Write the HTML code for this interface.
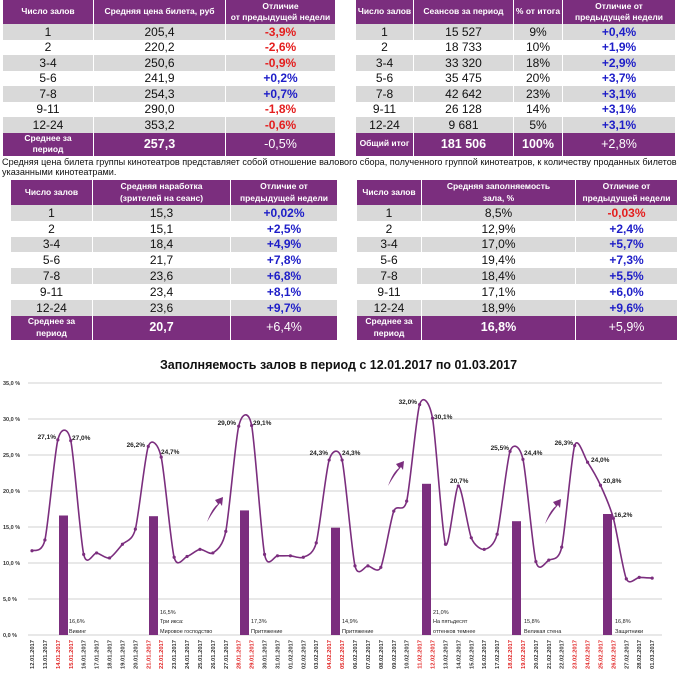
<!DOCTYPE html>
<html><head><meta charset="utf-8"><style>
body{margin:0;width:677px;height:676px;background:#fff;position:relative;overflow:hidden;font-family:"Liberation Sans","Noto Sans CJK SC",sans-serif;}
table{position:absolute;border-collapse:collapse;table-layout:fixed;}
td{padding:0;text-align:center;font-size:12px;color:#111;border-left:1px solid #fff;line-height:1}
tr.h td{background:#7b2e7e;color:#fff;font-weight:bold;font-size:8.5px;line-height:1.35}
tr.s td{background:#7b2e7e;color:#fff;font-weight:bold;font-size:12.5px}
tr.s td.l{font-size:8.5px;line-height:1.35}
tr.g td{background:#d9d9d9}
.r{color:#e41e1e!important;font-weight:bold}
.b{color:#1e1ec8!important;font-weight:bold}
.cap{position:absolute;left:2px;top:157px;font-size:9.1px;line-height:10px;color:#111;white-space:nowrap}
.title{position:absolute;left:0;width:677px;top:358px;text-align:center;font-weight:bold;font-size:12.5px;color:#111}
</style></head><body>

<table style="left:2px;top:0;width:333px">
<colgroup><col style="width:91px"><col style="width:132px"><col></colgroup>
<tr class="h" style="height:24px"><td>Число залов</td><td>Средняя цена билета, руб</td><td>Отличие<br>от предыдущей недели</td></tr>
<tr class="g" style="height:15.5px"><td>1</td><td>205,4</td><td class="r">-3,9%</td></tr>
<tr style="height:15.5px"><td>2</td><td>220,2</td><td class="r">-2,6%</td></tr>
<tr class="g" style="height:15.5px"><td>3-4</td><td>250,6</td><td class="r">-0,9%</td></tr>
<tr style="height:15.5px"><td>5-6</td><td>241,9</td><td class="b">+0,2%</td></tr>
<tr class="g" style="height:15.5px"><td>7-8</td><td>254,3</td><td class="b">+0,7%</td></tr>
<tr style="height:15.5px"><td>9-11</td><td>290,0</td><td class="r">-1,8%</td></tr>
<tr class="g" style="height:15.5px"><td>12-24</td><td>353,2</td><td class="r">-0,6%</td></tr>
<tr class="s" style="height:23px"><td class="l">Среднее за<br>период</td><td>257,3</td><td style="font-weight:normal">-0,5%</td></tr>
</table>

<table style="left:355px;top:0;width:320px">
<colgroup><col style="width:58px"><col style="width:100px"><col style="width:49px"><col></colgroup>
<tr class="h" style="height:24px"><td>Число залов</td><td>Сеансов за период</td><td>% от итога</td><td>Отличие от<br>предыдущей недели</td></tr>
<tr class="g" style="height:15.5px"><td>1</td><td>15 527</td><td>9%</td><td class="b">+0,4%</td></tr>
<tr style="height:15.5px"><td>2</td><td>18 733</td><td>10%</td><td class="b">+1,9%</td></tr>
<tr class="g" style="height:15.5px"><td>3-4</td><td>33 320</td><td>18%</td><td class="b">+2,9%</td></tr>
<tr style="height:15.5px"><td>5-6</td><td>35 475</td><td>20%</td><td class="b">+3,7%</td></tr>
<tr class="g" style="height:15.5px"><td>7-8</td><td>42 642</td><td>23%</td><td class="b">+3,1%</td></tr>
<tr style="height:15.5px"><td>9-11</td><td>26 128</td><td>14%</td><td class="b">+3,1%</td></tr>
<tr class="g" style="height:15.5px"><td>12-24</td><td>9 681</td><td>5%</td><td class="b">+3,1%</td></tr>
<tr class="s" style="height:23px"><td class="l">Общий итог</td><td>181 506</td><td>100%</td><td style="font-weight:normal">+2,8%</td></tr>
</table>

<div class="cap">Средняя цена билета группы кинотеатров представляет собой отношение валового сбора, полученного группой кинотеатров, к количеству проданных билетов<br>указанными кинотеатрами.</div>

<table style="left:10px;top:180px;width:327px">
<colgroup><col style="width:82px"><col style="width:138px"><col></colgroup>
<tr class="h" style="height:25px"><td>Число залов</td><td>Средняя наработка<br>(зрителей на сеанс)</td><td>Отличие от<br>предыдущей недели</td></tr>
<tr class="g" style="height:15.8px"><td>1</td><td>15,3</td><td class="b">+0,02%</td></tr>
<tr style="height:15.8px"><td>2</td><td>15,1</td><td class="b">+2,5%</td></tr>
<tr class="g" style="height:15.8px"><td>3-4</td><td>18,4</td><td class="b">+4,9%</td></tr>
<tr style="height:15.8px"><td>5-6</td><td>21,7</td><td class="b">+7,8%</td></tr>
<tr class="g" style="height:15.8px"><td>7-8</td><td>23,6</td><td class="b">+6,8%</td></tr>
<tr style="height:15.8px"><td>9-11</td><td>23,4</td><td class="b">+8,1%</td></tr>
<tr class="g" style="height:15.8px"><td>12-24</td><td>23,6</td><td class="b">+9,7%</td></tr>
<tr class="s" style="height:24px"><td class="l">Среднее за<br>период</td><td>20,7</td><td style="font-weight:normal">+6,4%</td></tr>
</table>

<table style="left:356px;top:180px;width:321px">
<colgroup><col style="width:65px"><col style="width:154px"><col></colgroup>
<tr class="h" style="height:25px"><td>Число залов</td><td>Средняя заполняемость<br>зала, %</td><td>Отличие от<br>предыдущей недели</td></tr>
<tr class="g" style="height:15.8px"><td>1</td><td>8,5%</td><td class="r">-0,03%</td></tr>
<tr style="height:15.8px"><td>2</td><td>12,9%</td><td class="b">+2,4%</td></tr>
<tr class="g" style="height:15.8px"><td>3-4</td><td>17,0%</td><td class="b">+5,7%</td></tr>
<tr style="height:15.8px"><td>5-6</td><td>19,4%</td><td class="b">+7,3%</td></tr>
<tr class="g" style="height:15.8px"><td>7-8</td><td>18,4%</td><td class="b">+5,5%</td></tr>
<tr style="height:15.8px"><td>9-11</td><td>17,1%</td><td class="b">+6,0%</td></tr>
<tr class="g" style="height:15.8px"><td>12-24</td><td>18,9%</td><td class="b">+9,6%</td></tr>
<tr class="s" style="height:24px"><td class="l">Среднее за<br>период</td><td>16,8%</td><td style="font-weight:normal">+5,9%</td></tr>
</table>

<div class="title">Заполняемость залов в период с 12.01.2017 по 01.03.2017</div>

<svg style="position:absolute;left:0;top:0" width="677" height="676" font-family="Liberation Sans, sans-serif">
<g stroke="#d0d0d0" stroke-width="1">
<line x1="28" x2="662" y1="635" y2="635"/><line x1="28" x2="662" y1="599" y2="599"/><line x1="28" x2="662" y1="563" y2="563"/><line x1="28" x2="662" y1="527" y2="527"/><line x1="28" x2="662" y1="491" y2="491"/><line x1="28" x2="662" y1="455" y2="455"/><line x1="28" x2="662" y1="419" y2="419"/><line x1="28" x2="662" y1="383" y2="383"/>
</g>
<g font-size="5.5" font-weight="bold" fill="#333">
<text x="3" y="637">0,0 %</text><text x="3" y="601">5,0 %</text><text x="3" y="565">10,0 %</text><text x="3" y="529">15,0 %</text><text x="3" y="493">20,0 %</text><text x="3" y="457">25,0 %</text><text x="3" y="421">30,0 %</text><text x="3" y="385">35,0 %</text>
</g>
<g fill="#7b2e7e">
<rect x="59" y="515.5" width="9" height="119.5"/>
<rect x="149" y="516.2" width="9" height="118.8"/>
<rect x="240" y="510.4" width="9" height="124.6"/>
<rect x="331" y="527.7" width="9" height="107.3"/>
<rect x="422" y="483.8" width="9" height="151.2"/>
<rect x="512" y="521.2" width="9" height="113.8"/>
<rect x="603" y="514" width="9" height="121"/>
</g>
<path id="curve" fill="none" stroke="#7b2e7e" stroke-width="1.6"/>
<g id="marks" fill="#7b2e7e"></g>
<g font-size="6.5" font-weight="bold" fill="#222">
<text x="56" y="439" text-anchor="end">27,1%</text><text x="72" y="440">27,0%</text>
<text x="145" y="447" text-anchor="end">26,2%</text><text x="161" y="454">24,7%</text>
<text x="236" y="425" text-anchor="end">29,0%</text><text x="253" y="425">29,1%</text>
<text x="328" y="455" text-anchor="end">24,3%</text><text x="342" y="455">24,3%</text>
<text x="417" y="404" text-anchor="end">32,0%</text><text x="434" y="419">30,1%</text>
<text x="450" y="483">20,7%</text>
<text x="509" y="450" text-anchor="end">25,5%</text><text x="524" y="455">24,4%</text>
<text x="573" y="445" text-anchor="end">26,3%</text><text x="591" y="462">24,0%</text>
<text x="603" y="483">20,8%</text><text x="614" y="517">16,2%</text>
</g>
<g font-size="5.5" fill="#222">
<text x="69" y="623">16,6%</text><text x="69" y="633">Викинг</text>
<text x="160" y="614">16,5%</text><text x="160" y="623">Три икса:</text><text x="160" y="633">Мировое господство</text>
<text x="251" y="623">17,3%</text><text x="251" y="633">Притяжение</text>
<text x="342" y="623">14,9%</text><text x="342" y="633">Притяжение</text>
<text x="433" y="614">21,0%</text><text x="433" y="623">На пятьдесят</text><text x="433" y="633">оттенков темнее</text>
<text x="524" y="623">15,8%</text><text x="524" y="633">Великая стена</text>
<text x="615" y="623">16,8%</text><text x="615" y="633">Защитники</text>
</g>
<g fill="#7b2e7e" stroke="none">
<path d="M207 522 Q212 508 218 504 L215 500 L223 497 L222 506 L220 503 Q214 510 207 522Z"/>
<path d="M388 486 Q393 472 399 468 L396 464 L404 461 L403 470 L401 467 Q395 474 388 486Z"/>
<path d="M545 524 Q550 510 556 506 L553 502 L561 499 L560 508 L558 505 Q552 512 545 524Z"/>
</g>
<g id="dates" font-size="5.8" font-weight="bold" fill="#333" text-anchor="end">
<text>12.01.2017</text><text>13.01.2017</text><text fill="#e02020">14.01.2017</text><text fill="#e02020">15.01.2017</text><text>16.01.2017</text><text>17.01.2017</text><text>18.01.2017</text><text>19.01.2017</text><text>20.01.2017</text><text fill="#e02020">21.01.2017</text><text fill="#e02020">22.01.2017</text><text>23.01.2017</text><text>24.01.2017</text><text>25.01.2017</text><text>26.01.2017</text><text>27.01.2017</text><text fill="#e02020">28.01.2017</text><text fill="#e02020">29.01.2017</text><text>30.01.2017</text><text>31.01.2017</text><text>01.02.2017</text><text>02.02.2017</text><text>03.02.2017</text><text fill="#e02020">04.02.2017</text><text fill="#e02020">05.02.2017</text><text>06.02.2017</text><text>07.02.2017</text><text>08.02.2017</text><text>09.02.2017</text><text>10.02.2017</text><text fill="#e02020">11.02.2017</text><text fill="#e02020">12.02.2017</text><text>13.02.2017</text><text>14.02.2017</text><text>15.02.2017</text><text>16.02.2017</text><text>17.02.2017</text><text fill="#e02020">18.02.2017</text><text fill="#e02020">19.02.2017</text><text>20.02.2017</text><text>21.02.2017</text><text>22.02.2017</text><text fill="#e02020">23.02.2017</text><text fill="#e02020">24.02.2017</text><text fill="#e02020">25.02.2017</text><text fill="#e02020">26.02.2017</text><text>27.02.2017</text><text>28.02.2017</text><text>01.03.2017</text>
</g>
</svg>
<script>
var S=12.92;
var t=document.querySelectorAll("#dates text");
for(var k=0;k<t.length;k++){t[k].setAttribute("transform","translate("+(32+S*k+2)+",640) rotate(-90)");}
var v=[11.7,13.2,27.1,27.0,11.2,11.4,10.7,12.6,14.7,26.2,24.7,10.8,10.9,11.9,11.4,14.4,29.0,29.1,11.2,11.0,11.0,10.8,12.8,24.3,24.3,9.6,9.6,9.4,17.2,18.6,32.0,30.1,12.6,20.7,13.5,11.9,14.0,25.5,24.4,10.2,10.4,12.2,26.3,24.0,20.8,16.2,7.8,8.0,7.9];
var p=v.map(function(y,i){return [32+S*i,635-7.2*y];});
var d="M"+p[0][0]+","+p[0][1];
for(var i=0;i<p.length-1;i++){var a=p[i-1]||p[i],b=p[i],c=p[i+1],e=p[i+2]||c;
d+=" C"+(b[0]+(c[0]-a[0])/8)+","+(b[1]+(c[1]-a[1])/8)+" "+(c[0]-(e[0]-b[0])/8)+","+(c[1]-(e[1]-b[1])/8)+" "+c[0]+","+c[1];}
document.getElementById("curve").setAttribute("d",d);
var m="";p.forEach(function(q){m+='<circle cx="'+q[0]+'" cy="'+q[1]+'" r="1.6"/>';});
document.getElementById("marks").innerHTML=m;
</script>
</body></html>
